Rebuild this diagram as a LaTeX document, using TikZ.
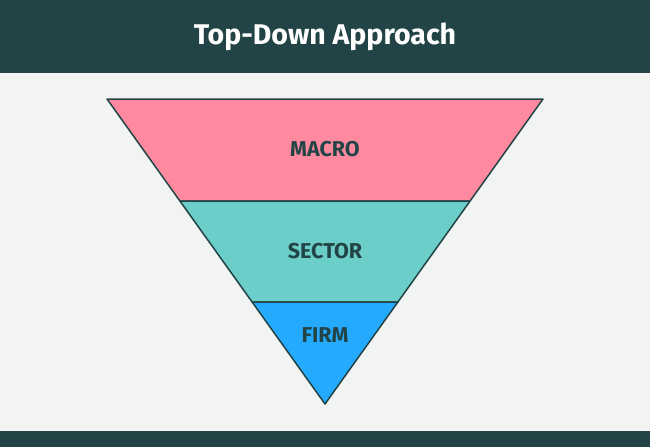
\documentclass[tikz,border=0pt]{standalone}
\usepackage{fontspec}
\setmainfont{Fira Sans}
\usetikzlibrary{positioning}
\definecolor{td_dark}{RGB}{34, 68, 70}
\definecolor{td_bg}{RGB}{242, 244, 244}
\definecolor{td_pink}{RGB}{255, 138, 160}
\definecolor{td_teal}{RGB}{108, 206, 200}
\definecolor{td_blue}{RGB}{36, 171, 255}
\tikzstyle{band}=[draw=td_dark,line width=1.5pt,line join=round]
\tikzstyle{lbl}=[text=td_dark,font=\fontsize{21.5}{24}\selectfont\bfseries,inner sep=0pt]
\tikzstyle{ttl}=[text=white,font=\fontsize{28.5}{32}\selectfont\bfseries,inner sep=0pt]
\begin{document}
\begin{tikzpicture}[x=1pt,y=-1pt]
        \fill[td_bg] (0,0) rectangle (650,447);
        \useasboundingbox (0,0) rectangle (650,447);
        \fill[td_dark] (0,0) rectangle (650,73);
        \fill[td_dark] (0,431) rectangle (650,447);
        \node [style=ttl] (title) at (325,37) {Top-Down Approach};
        % the three layers of the funnel
        \filldraw[style=band,fill=td_pink] (107,99) -- (543,99) -- (470.1,201) -- (179.9,201) -- cycle;
        \filldraw[style=band,fill=td_teal] (179.9,201) -- (470.1,201) -- (397.9,302) -- (252.1,302) -- cycle;
        \filldraw[style=band,fill=td_blue] (252.1,302) -- (397.9,302) -- (325,404) -- cycle;
        \node [style=lbl] (macro) at (325,149) {MACRO};
        \node [style=lbl] (sector) at (325,251) {SECTOR};
        \node [style=lbl] (firm) at (325,335) {FIRM};
    \end{tikzpicture}
\end{document}
